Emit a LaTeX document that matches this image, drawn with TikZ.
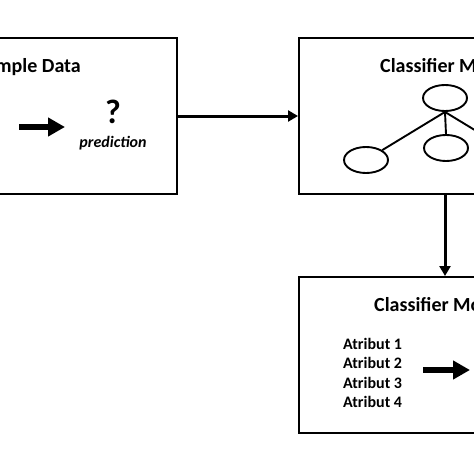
\documentclass[tikz,border=0pt]{standalone}
\usepackage{fontspec}
\setmainfont{Carlito}
\usetikzlibrary{arrows.meta,shapes.geometric}
\begin{document}
\begin{tikzpicture}[x=1pt,y=-1pt,
    block/.style ={draw, line width=2pt, inner sep=0pt, minimum height=156pt},
    leaf/.style ={ellipse, draw, line width=1.9pt, inner sep=0pt, minimum width=44pt, minimum height=26pt},
    flow/.style ={line width=3pt, -{Triangle[length=10pt,width=11pt]}},
    fat/.style ={line width=6pt, -{Triangle[length=17pt,width=18pt]}},
    title/.style ={font=\fontsize{20}{22}\selectfont\bfseries, anchor=base west, inner sep=0pt}]
   \useasboundingbox (0,0) rectangle (474,474);
   \clip (0,0) rectangle (474,474);

   \node[block, minimum width=292pt] (sample) at (31,116)  {};
   \node[block, minimum width=282pt] (model)  at (440,116) {};
   \node[block, minimum width=270pt] (result) at (434,355) {};

   \node[title, anchor=base east] (sampletitle) at (81,72)  {Sample Data};
   \node[title]              (modeltitle)  at (380,72) {Classifier Model};
   \node[title]              (resulttitle) at (374,311) {Classifier Model};

   % sample data
   \coordinate (samplein)  at (19,127);
   \coordinate (sampleout) at (65,127);
   \draw[fat] (samplein) to (sampleout);
   \node[font=\fontsize{34}{36}\selectfont\bfseries] (query) at (113,112) {?};
   \node[font=\fontsize{16}{18}\selectfont\bfseries\itshape] (prediction) at (113,143) {prediction};

   % tree
   \node[leaf] (root)  at (445,98)  {};
   \node[leaf] (left)  at (366,160) {};
   \node[leaf] (mid)   at (446,148) {};
   \node[leaf] (right) at (524,160) {};
   \draw[line width=1.9pt] (root.south) to (left);
   \draw[line width=1.9pt] (root.south) to (mid.north);
   \draw[line width=1.9pt] (root.south) to (right);

   % attributes
   \node[font=\fontsize{16}{19.2}\selectfont\bfseries, align=left, anchor=west, inner sep=0pt] (attributes) at (343,373)
     {Atribut 1\\Atribut 2\\Atribut 3\\Atribut 4};
   \coordinate (attrin)  at (423,370);
   \coordinate (attrout) at (470,370);
   \draw[fat] (attrin) to (attrout);

   \draw[flow] (sample) to (model);
   \draw[flow] (root |- model.south) to (root |- result.north);
 \end{tikzpicture}
\end{document}
